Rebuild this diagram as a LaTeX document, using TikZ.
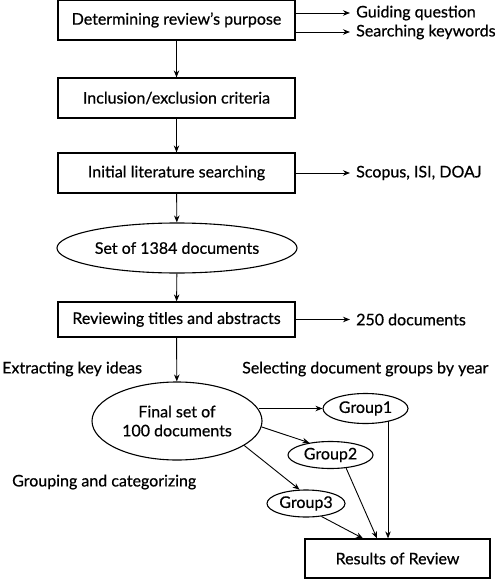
\documentclass[tikz,border=0pt]{standalone}
\usepackage{fontspec}
\setmainfont{Lato}[FakeBold=0.6]
\usetikzlibrary{arrows.meta, shapes.geometric}

\begin{document}
\begin{tikzpicture}[x=1pt, y=-1pt, font=\fontsize{16}{19}\selectfont,
    box/.style={draw, line width=1.2pt, minimum width=237pt, minimum height=40pt, inner sep=0pt},
    oval/.style={draw, ellipse, line width=1.1pt, inner sep=0pt},
    lbl/.style={anchor=west, inner sep=0pt},
    arr/.style={-{Stealth[length=7pt, width=5.5pt]}, line width=0.9pt}]
        \useasboundingbox (0,0) rectangle (497,580);

        \node[box]  (purpose)  at (176.5,20)  {Determining review's purpose};
        \node[box]  (criteria) at (176.5,98)  {Inclusion/exclusion criteria};
        \node[box]  (search)   at (176.5,173) {Initial literature searching};
        \node[oval, minimum width=240pt, minimum height=50pt] (set)   at (177,248) {Set of 1384 documents};
        \node[box, minimum height=35pt] (titles) at (176.5,319.5) {Reviewing titles and abstracts};
        \node[oval, minimum width=170pt, minimum height=78pt, align=center] (final) at (177,421) {Final set of\\100 documents};
        \node[oval, minimum width=85pt, minimum height=30pt] (g1) at (365.5,408.5) {Group1};
        \node[oval, minimum width=85pt, minimum height=27pt] (g2) at (330.5,455) {Group2};
        \node[oval, minimum width=78pt, minimum height=27pt] (g3) at (306,503.5) {Group3};
        \node[box, minimum width=185pt, minimum height=39pt] (results) at (397.5,558.5) {Results of Review};

        \node[lbl] (guide)   at (356,13)  {Guiding question};
        \node[lbl] (keys)    at (356,32)  {Searching keywords};
        \node[lbl] (dbs)     at (356,173) {Scopus, ISI, DOAJ};
        \node[lbl] (docs)    at (356,319.5) {250 documents};
        \node[lbl] (extract) at (2,369)   {Extracting key ideas};
        \node[lbl] (select)  at (242,369) {Selecting document groups by year};
        \node[lbl] (group)   at (12,482)  {Grouping and categorizing};

        \coordinate (r1) at ([xshift=-9.5pt]results.north);

        % main column
        \draw[arr] (purpose) -- (criteria);
        \draw[arr] (criteria) -- (search);
        \draw[arr] (search) -- (set);
        \draw[arr] (set) -- (titles);
        \draw[arr] (titles) -- (final);

        % side outputs
        \draw[arr] (purpose.east |- guide) -- ([xshift=-6pt]guide.west);
        \draw[arr] (purpose.east |- keys) -- ([xshift=-6pt]keys.west);
        \draw[arr] (search.east) -- ([xshift=-6pt]dbs.west);
        \draw[arr] (titles.east) -- ([xshift=-6pt]docs.west);

        % groups
        \draw[arr] (final.east |- g1) ++(-4pt,0) -- (g1.west);
        \draw[arr] (final.-4) -- (g2.150);
        \draw[arr] (final.-20) -- (g3.115);
        \draw[arr] ([yshift=3pt]g1.south -| r1) -- (r1);
        \draw[arr] (g2.-40) -- ([xshift=-20.5pt]results.north);
        \draw[arr] (g3.-40) -- ([xshift=-34.5pt]results.north);
\end{tikzpicture}
\end{document}
